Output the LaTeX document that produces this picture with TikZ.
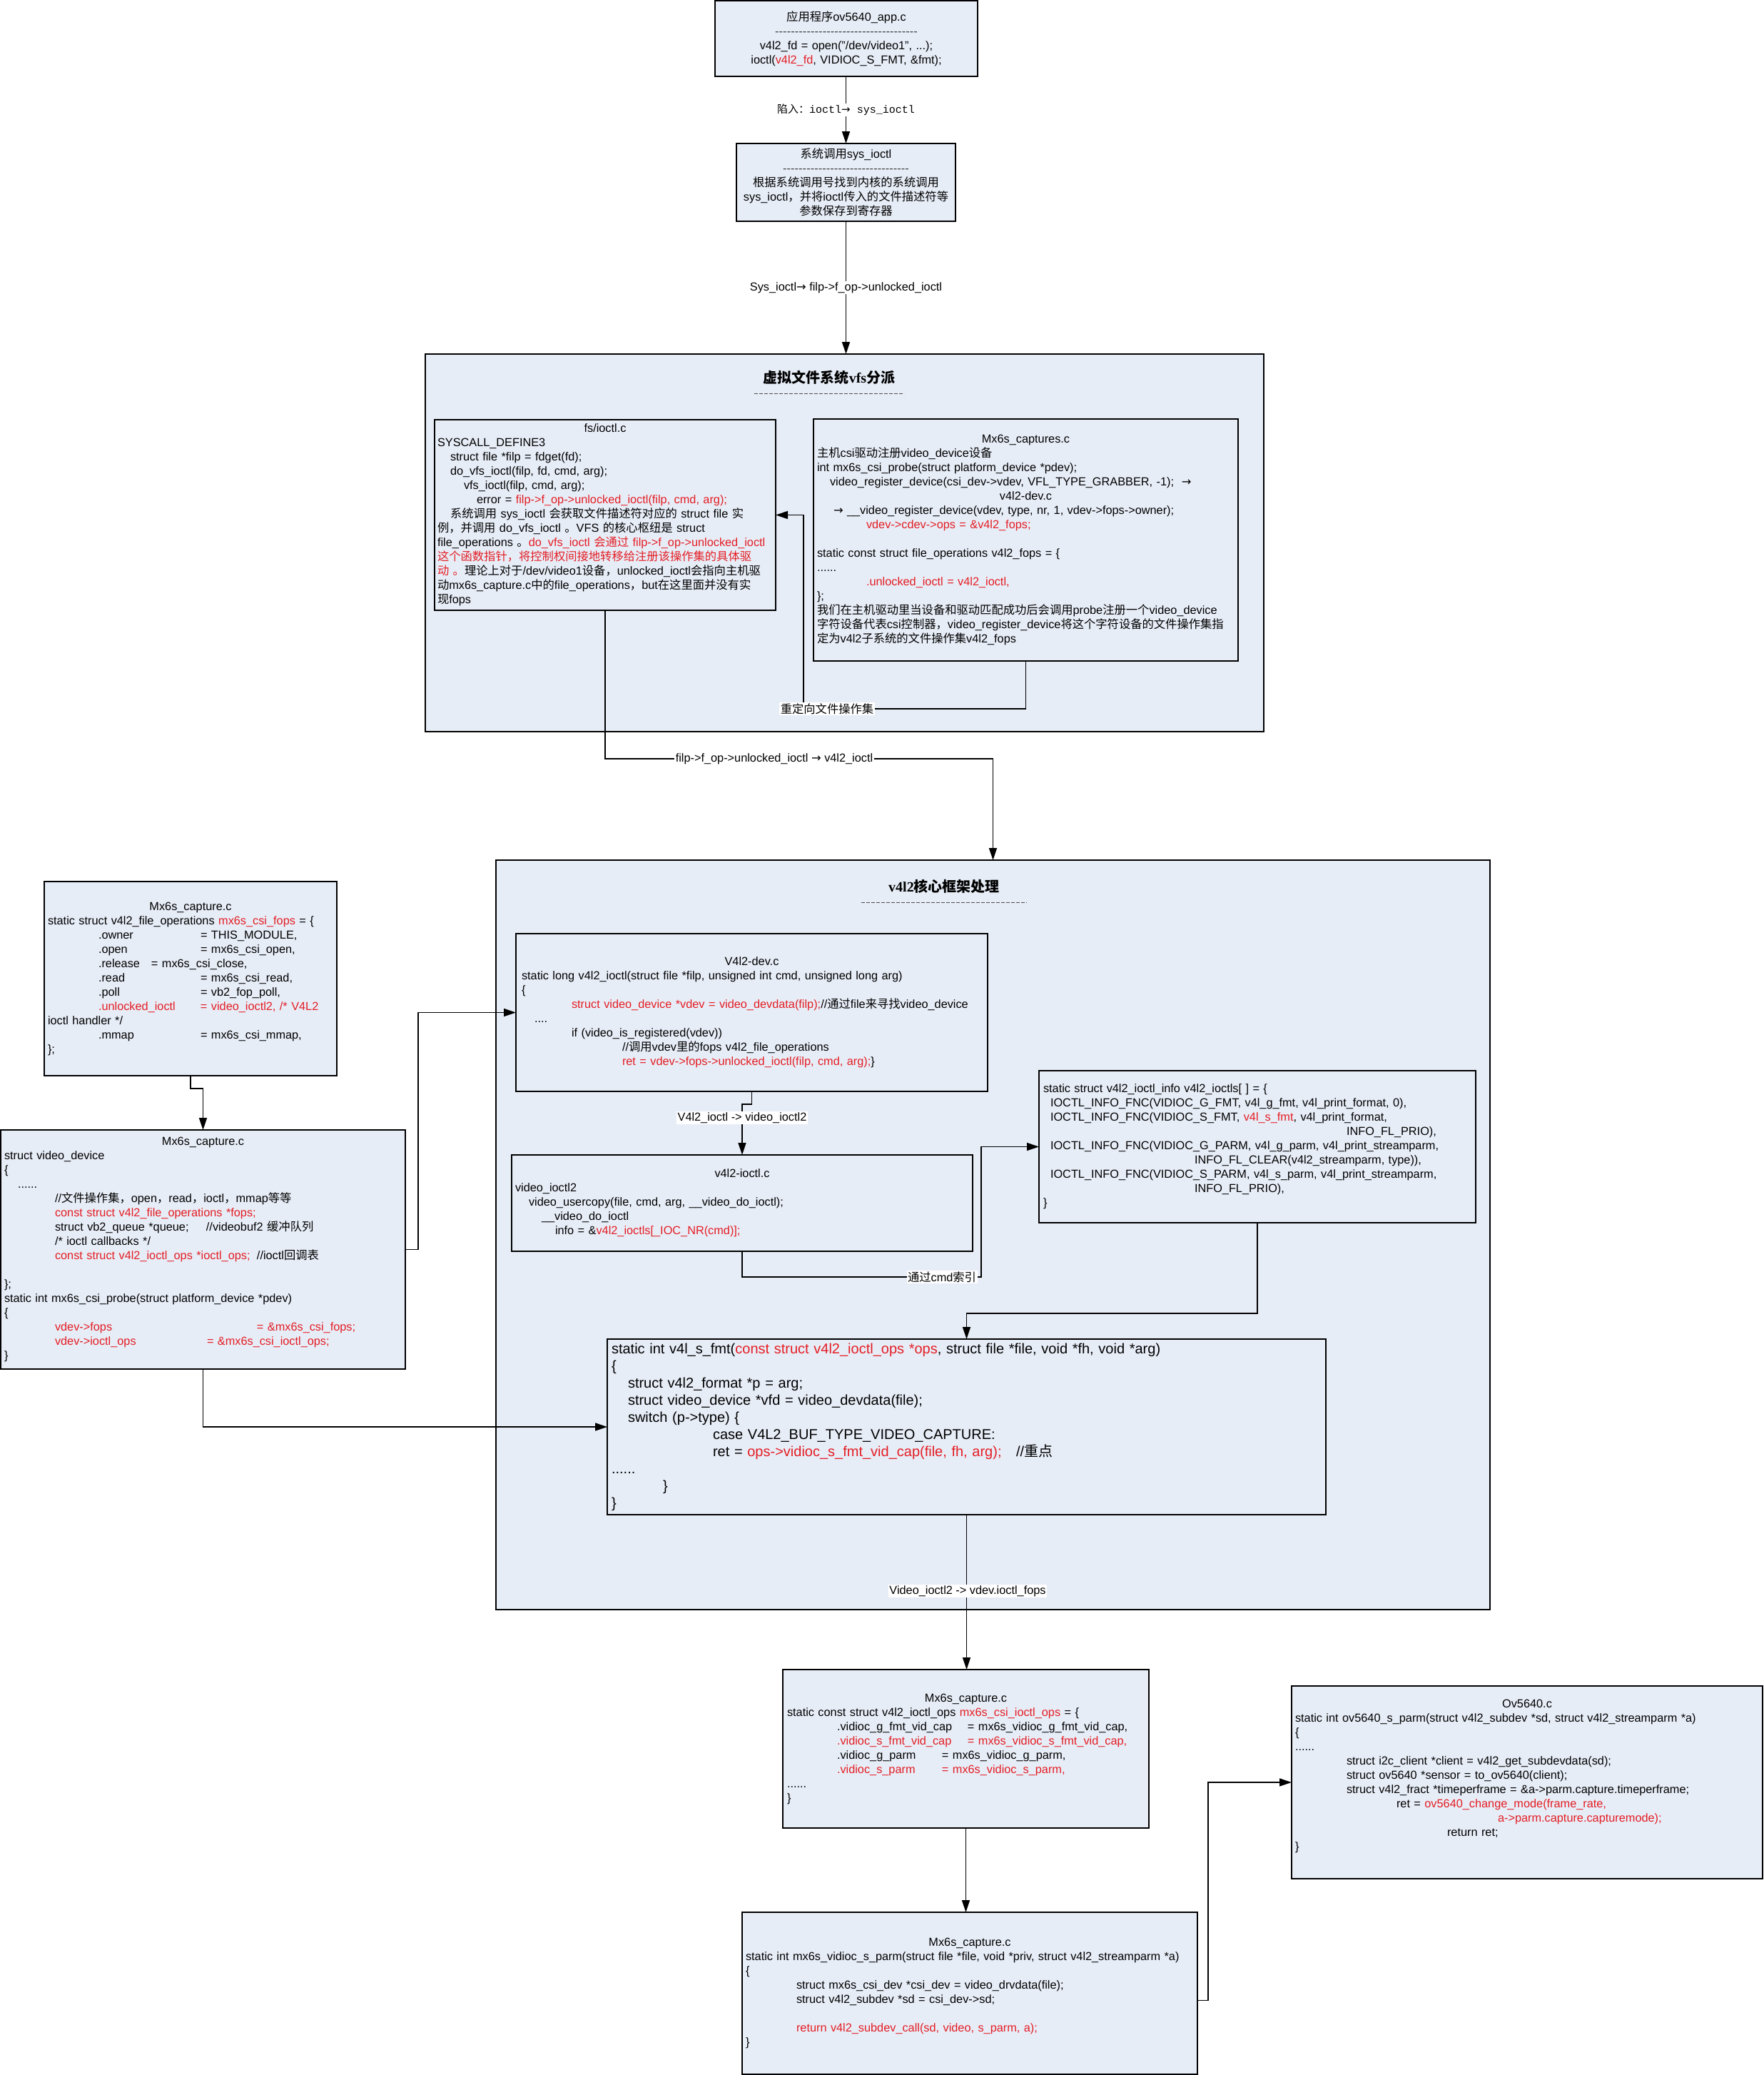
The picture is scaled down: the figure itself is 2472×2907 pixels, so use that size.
\documentclass[tikz,border=0pt]{standalone}
\usepackage{fontspec}
\usetikzlibrary{arrows.meta}
\setmainfont{Liberation Sans}
\newfontfamily\zhfont{Noto Sans CJK SC}
\newfontfamily\serifbf{Liberation Serif}
\newfontfamily\lblmono{Liberation Mono}
\newfontfamily\symfont{DejaVu Sans}
\definecolor{boxfill}{RGB}{231,237,247}
\definecolor{codered}{RGB}{228,30,36}
\newcommand\zh[1]{{\zhfont #1}}
\newcommand\rd[1]{\textcolor{codered}{#1}}
\newcommand\rarr{{\symfont →}}
\newcommand\codefont{\fontsize{16.3}{20}\selectfont}
\newcommand\dashrow[1]{\leavevmode\hbox to #1pt{\color{black!75}\xleaders\hbox{-}\hfill}}

\begin{document}
\begin{tikzpicture}[x=1pt,y=-1pt,
  codebox/.style={draw=black, line width=1.1pt, fill=boxfill, anchor=north west,
    inner xsep=5pt, inner ysep=0pt, outer sep=0pt, align=left, font=\codefont},
  layerbox/.style={draw=black, line width=1.1pt, fill=boxfill, anchor=north west,
    inner sep=0pt, outer sep=0pt},
  areatitle/.style={font=\fontsize{20}{24}\selectfont\bfseries, inner sep=0pt},
  titledash/.style={draw=black!70, line width=0.8pt, dash pattern=on 5pt off 2pt},
  flow/.style={draw=black, line width=1.5pt, -{Triangle[length=17pt,width=11pt]}},
  lbl/.style={fill=white, inner sep=1.5pt, font=\codefont}]

\path[fill=white] (0,0) rectangle (2472,2907);
\useasboundingbox (0,0) rectangle (2472,2907);

\node[layerbox, minimum width=1175pt, minimum height=529pt] (vfs) at (596,496) {};
\node[layerbox, minimum width=1393pt, minimum height=1050pt] (core) at (695,1205) {};
\node[areatitle] (vfstitle) at (1162,529) {\zh{虚拟文件系统}{\serifbf vfs}\zh{分派}};
\draw[titledash] (1057,551) -- (1267,551);
\node[areatitle] (coretitle) at (1323,1242) {{\serifbf v4l2}\zh{核心框架处理}};
\draw[titledash] (1207,1264) -- (1439,1264);

\node[codebox, align=center, text width=358pt, minimum height=106pt] (app) at (1002,1) {%
\zh{应用程序}ov5640\_app.c\\ \dashrow{200}\\
v4l2\_fd = open("/dev/video1", ...);\\
ioctl(\rd{v4l2\_fd}, VIDIOC\_S\_FMT, \&fmt);};

\node[codebox, align=center, text width=297pt, minimum height=109pt] (sys) at (1032,201) {%
\zh{系统调用}sys\_ioctl\\ \dashrow{177}\\
\zh{根据系统调用号找到内核的系统调用}\\
sys\_ioctl\zh{，并将}ioctl\zh{传入的文件描述符等}\\
\zh{参数保存到寄存器}};

\node[codebox, inner xsep=4pt, text width=470pt, minimum height=267pt] (fsioctl) at (609,588) {%
\makebox[\linewidth]{fs/ioctl.c}\\
SYSCALL\_DEFINE3\\
\hspace*{18pt}struct file *filp = fdget(fd);\\
\hspace*{18pt}do\_vfs\_ioctl(filp, fd, cmd, arg);\\
\hspace*{37pt}vfs\_ioctl(filp, cmd, arg);\\
\hspace*{55pt}error = \rd{filp->f\_op->unlocked\_ioctl(filp, cmd, arg);}\\
\mbox{\hspace*{18pt}\zh{系统调用} sys\_ioctl \zh{会获取文件描述符对应的} struct file \zh{实}}\\
\mbox{\zh{例，并调用} do\_vfs\_ioctl \zh{。}VFS \zh{的核心枢纽是} struct}\\
\mbox{file\_operations \zh{。}\rd{do\_vfs\_ioctl \zh{会通过} filp->f\_op->unlocked\_ioctl}}\\
\mbox{\rd{\zh{这个函数指针，将控制权间接地转移给注册该操作集的具体驱}}}\\
\mbox{\rd{\zh{动 。}}\zh{理论上对于}/dev/video1\zh{设备，}unlocked\_ioctl\zh{会指向主机驱}}\\
\mbox{\zh{动}mx6s\_capture.c\zh{中的}file\_operations\zh{，}but\zh{在这里面并没有实}}\\
\zh{现}fops};

\node[codebox, text width=585pt, minimum height=339pt] (mxcap) at (1140,587) {%
\makebox[\linewidth]{Mx6s\_captures.c}\\
\zh{主机}csi\zh{驱动注册}video\_device\zh{设备}\\
int mx6s\_csi\_probe(struct platform\_device *pdev);\\
\mbox{\hspace*{18pt}video\_register\_device(csi\_dev->vdev, VFL\_TYPE\_GRABBER, -1);\ \ \rarr}\\
\makebox[\linewidth]{v4l2-dev.c}\\
\mbox{\hspace*{23pt}\rarr\ \_\_video\_register\_device(vdev, type, nr, 1, vdev->fops->owner);}\\
\hspace*{69pt}\rd{vdev->cdev->ops = \&v4l2\_fops;}\\
\mbox{}\\
static const struct file\_operations v4l2\_fops = \{\\
......\\
\hspace*{69pt}\rd{.unlocked\_ioctl = v4l2\_ioctl,}\\
\};\\
\mbox{\zh{我们在主机驱动里当设备和驱动匹配成功后会调用}probe\zh{注册一个}video\_device}\\
\mbox{\zh{字符设备代表}csi\zh{控制器，}video\_register\_device\zh{将这个字符设备的文件操作集指}}\\
\zh{定为}v4l2\zh{子系统的文件操作集}v4l2\_fops};

\node[codebox, text width=400pt, minimum height=272pt] (fops) at (62,1235) {%
\makebox[\linewidth]{Mx6s\_capture.c}\\
static struct v4l2\_file\_operations \rd{mx6s\_csi\_fops} = \{\\
\hspace*{71pt}\makebox[143pt][l]{.owner}= THIS\_MODULE,\\
\hspace*{71pt}\makebox[143pt][l]{.open}= mx6s\_csi\_open,\\
\hspace*{71pt}\makebox[74pt][l]{.release}= mx6s\_csi\_close,\\
\hspace*{71pt}\makebox[143pt][l]{.read}= mx6s\_csi\_read,\\
\hspace*{71pt}\makebox[143pt][l]{.poll}= vb2\_fop\_poll,\\
\mbox{\hspace*{71pt}\rd{\makebox[143pt][l]{.unlocked\_ioctl}= video\_ioctl2, /* V4L2}}\\
ioctl handler */\\
\hspace*{71pt}\makebox[143pt][l]{.mmap}= mx6s\_csi\_mmap,\\
\};};

\node[codebox, text width=557pt, minimum height=335pt] (vdev) at (1,1583) {%
\makebox[\linewidth]{Mx6s\_capture.c}\\
struct video\_device\\
\{\\
\hspace*{19pt}......\\
\hspace*{71pt}//\zh{文件操作集，}open\zh{，}read\zh{，}ioctl\zh{，}mmap\zh{等等}\\
\hspace*{71pt}\rd{const struct v4l2\_file\_operations *fops;}\\
\hspace*{71pt}\makebox[212pt][l]{struct vb2\_queue *queue;}//videobuf2 \zh{缓冲队列}\\
\hspace*{71pt}/* ioctl callbacks */\\
\mbox{\hspace*{71pt}\makebox[283pt][l]{\rd{const struct v4l2\_ioctl\_ops *ioctl\_ops;}}//ioctl\zh{回调表}}\\
\mbox{}\\
\};\\
static int mx6s\_csi\_probe(struct platform\_device *pdev)\\
\{\\
\hspace*{71pt}\rd{\makebox[283pt][l]{vdev->fops}= \&mx6s\_csi\_fops;}\\
\hspace*{71pt}\rd{\makebox[213pt][l]{vdev->ioctl\_ops}= \&mx6s\_csi\_ioctl\_ops;}\\
\}};

\node[codebox, inner xsep=8pt, text width=645pt, minimum height=221pt] (v4l2dev) at (723,1308) {%
\makebox[\linewidth]{V4l2-dev.c}\\
static long v4l2\_ioctl(struct file *filp, unsigned int cmd, unsigned long arg)\\
\{\\
\mbox{\hspace*{70pt}\rd{struct video\_device *vdev = video\_devdata(filp);}//\zh{通过}file\zh{来寻找}video\_device}\\
\hspace*{18pt}....\\
\hspace*{70pt}if (video\_is\_registered(vdev))\\
\hspace*{141pt}//\zh{调用}vdev\zh{里的}fops v4l2\_file\_operations\\
\hspace*{141pt}\rd{ret = vdev->fops->unlocked\_ioctl(filp, cmd, arg);}\}};

\node[codebox, text width=636pt, minimum height=135pt] (ioctlc) at (717,1618) {%
\makebox[\linewidth]{v4l2-ioctl.c}\\
video\_ioctl2\\
\hspace*{19pt}video\_usercopy(file, cmd, arg, \_\_video\_do\_ioctl);\\
\hspace*{37pt}\_\_video\_do\_ioctl\\
\hspace*{56pt}info = \&\rd{v4l2\_ioctls[\_IOC\_NR(cmd)];}};

\node[codebox, inner xsep=6pt, text width=600pt, minimum height=213pt] (tbl) at (1456,1500) {%
static struct v4l2\_ioctl\_info v4l2\_ioctls[ ] = \{\\
\hspace*{10pt}IOCTL\_INFO\_FNC(VIDIOC\_G\_FMT, v4l\_g\_fmt, v4l\_print\_format, 0),\\
\hspace*{10pt}IOCTL\_INFO\_FNC(VIDIOC\_S\_FMT, \rd{v4l\_s\_fmt}, v4l\_print\_format,\\
\hspace*{425pt}INFO\_FL\_PRIO),\\
\hspace*{10pt}IOCTL\_INFO\_FNC(VIDIOC\_G\_PARM, v4l\_g\_parm, v4l\_print\_streamparm,\\
\hspace*{212pt}INFO\_FL\_CLEAR(v4l2\_streamparm, type)),\\
\hspace*{10pt}IOCTL\_INFO\_FNC(VIDIOC\_S\_PARM, v4l\_s\_parm, v4l\_print\_streamparm,\\
\hspace*{212pt}INFO\_FL\_PRIO),\\
\}};

\node[codebox, font=\fontsize{20}{24}\selectfont, inner xsep=6pt, text width=995pt, minimum height=246pt] (sfmt) at (851,1876) {%
\mbox{static int v4l\_s\_fmt(\rd{const struct v4l2\_ioctl\_ops *ops}, struct file *file, void *fh, void *arg)}\\
\{\\
\hspace*{23pt}struct v4l2\_format *p = arg;\\
\hspace*{23pt}struct video\_device *vfd = video\_devdata(file);\\
\hspace*{23pt}switch (p->type) \{\\
\hspace*{142pt}case V4L2\_BUF\_TYPE\_VIDEO\_CAPTURE:\\
\hspace*{142pt}\makebox[425pt][l]{ret = \rd{ops->vidioc\_s\_fmt\_vid\_cap(file, fh, arg);}}//\zh{重点}\\
......\\
\hspace*{72pt}\}\\
\}};

\node[codebox, inner xsep=6pt, text width=501pt, minimum height=222pt] (iops) at (1097,2339) {%
\makebox[\linewidth]{Mx6s\_capture.c}\\
static const struct v4l2\_ioctl\_ops \rd{mx6s\_csi\_ioctl\_ops} = \{\\
\hspace*{70pt}\makebox[183pt][l]{.vidioc\_g\_fmt\_vid\_cap}= mx6s\_vidioc\_g\_fmt\_vid\_cap,\\
\hspace*{70pt}\rd{\makebox[183pt][l]{.vidioc\_s\_fmt\_vid\_cap}= mx6s\_vidioc\_s\_fmt\_vid\_cap,}\\
\hspace*{70pt}\makebox[147pt][l]{.vidioc\_g\_parm}= mx6s\_vidioc\_g\_parm,\\
\hspace*{70pt}\rd{\makebox[147pt][l]{.vidioc\_s\_parm}= mx6s\_vidioc\_s\_parm,}\\
......\\
\}};

\node[codebox, text width=628pt, minimum height=227pt] (sparm) at (1040,2679) {%
\makebox[\linewidth]{Mx6s\_capture.c}\\
\mbox{static int mx6s\_vidioc\_s\_parm(struct file *file, void *priv, struct v4l2\_streamparm *a)}\\
\{\\
\hspace*{71pt}struct mx6s\_csi\_dev *csi\_dev = video\_drvdata(file);\\
\hspace*{71pt}struct v4l2\_subdev *sd = csi\_dev->sd;\\
\mbox{}\\
\hspace*{71pt}\rd{return v4l2\_subdev\_call(sd, video, s\_parm, a);}\\
\}};

\node[codebox, text width=650pt, minimum height=270pt] (ov) at (1810,2362) {%
\makebox[\linewidth]{Ov5640.c}\\
static int ov5640\_s\_parm(struct v4l2\_subdev *sd, struct v4l2\_streamparm *a)\\
\{\\
......\\
\hspace*{72pt}struct i2c\_client *client = v4l2\_get\_subdevdata(sd);\\
\hspace*{72pt}struct ov5640 *sensor = to\_ov5640(client);\\
\hspace*{72pt}struct v4l2\_fract *timeperframe = \&a->parm.capture.timeperframe;\\
\hspace*{142pt}ret = \rd{ov5640\_change\_mode(frame\_rate,}\\
\hspace*{284pt}\rd{a->parm.capture.capturemode);}\\
\hspace*{213pt}return ret;\\
\}\\
\mbox{}};

\draw[flow] (sys.north |- app.south) -- (sys.north)
  node[lbl, midway, font=\lblmono\fontsize{15}{18}\selectfont] (trap) {\zh{陷入：}ioctl\rarr{} sys\_ioctl};
\draw[flow] (sys.south) -- (sys.south |- vfs.north)
  node[lbl, midway] (syscall) {Sys\_ioctl\rarr{} filp->f\_op->unlocked\_ioctl};

\coordinate (redir) at (1126,993);
\draw[flow] (mxcap.south) |- (redir) |- (fsioctl.east);
\node[lbl] (redirlbl) at (1159,993) {\zh{重定向文件操作集}};

\coordinate (vfsout) at (848,1063);
\draw[flow] (fsioctl.south) -- (vfsout) -| (core.north);
\node[lbl] (dispatch) at (1085,1063) {filp->f\_op->unlocked\_ioctl \rarr{} v4l2\_ioctl};

\draw[flow] (fops.south) -- ++(0,18) -| (vdev.north);
\draw[flow] (vdev.east) -- ++(18,0) |- (v4l2dev.west);
\draw[flow] (vdev.south) |- (sfmt.west);

\draw[flow] (v4l2dev.south) -- ++(0,18) -| (ioctlc.north);
\node[lbl] (tovideo) at (1040,1566) {V4l2\_ioctl -> video\_ioctl2};

\coordinate (cmdidx) at (1375,1789);
\draw[flow] (ioctlc.south) |- (cmdidx) |- (tbl.west);
\node[lbl] (cmdlbl) at (1320,1789) {\zh{通过}cmd\zh{索引}};

\draw[flow] (tbl.south) -- ++(0,127) -| (sfmt.north);
\draw[flow] (sfmt.south) -- (sfmt.south |- iops.north);
\node[lbl] (opslbl) at (1356,2229) {Video\_ioctl2 -> vdev.ioctl\_fops};

\draw[flow] (iops.south) -- (iops.south |- sparm.north);
\draw[flow] ([yshift=-10pt]sparm.east) -- ++(15,0) |- (ov.west);
\end{tikzpicture}
\end{document}
